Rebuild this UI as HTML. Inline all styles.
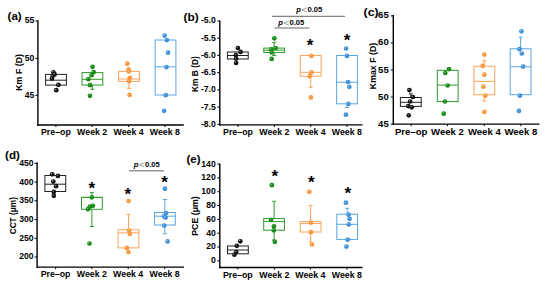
<!DOCTYPE html>
<html><head><meta charset="utf-8"><style>
html,body{margin:0;padding:0;background:#fff;width:550px;height:284px;overflow:hidden;}
svg{display:block;font-family:"Liberation Sans", sans-serif;}
</style></head><body>
<svg width="550" height="284" viewBox="0 0 550 284">
<defs><radialGradient id="gk" cx="0.5" cy="0.5" r="0.55" fx="0.32" fy="0.3"><stop offset="0" stop-color="#b0b0b0"/><stop offset="0.4" stop-color="#121212"/><stop offset="1" stop-color="#121212"/></radialGradient><radialGradient id="gg" cx="0.5" cy="0.5" r="0.55" fx="0.32" fy="0.3"><stop offset="0" stop-color="#7fd07f"/><stop offset="0.4" stop-color="#178a17"/><stop offset="1" stop-color="#178a17"/></radialGradient><radialGradient id="go" cx="0.5" cy="0.5" r="0.55" fx="0.32" fy="0.3"><stop offset="0" stop-color="#ffd6a8"/><stop offset="0.4" stop-color="#f7953a"/><stop offset="1" stop-color="#f7953a"/></radialGradient><radialGradient id="gb" cx="0.5" cy="0.5" r="0.55" fx="0.32" fy="0.3"><stop offset="0" stop-color="#b5dcfa"/><stop offset="0.4" stop-color="#3d8fd8"/><stop offset="1" stop-color="#3d8fd8"/></radialGradient></defs>
<rect width="550" height="284" fill="#fff"/>
<line x1="37.9" y1="20.3" x2="37.9" y2="125.7" stroke="#000" stroke-width="1.4"/>
<line x1="37.199999999999996" y1="125.0" x2="183.8" y2="125.0" stroke="#000" stroke-width="1.4"/>
<line x1="35.4" y1="21" x2="37.9" y2="21" stroke="#000" stroke-width="1"/>
<text x="34.3" y="23.4" font-size="8.6" font-weight="bold" text-anchor="end" >55</text>
<line x1="35.4" y1="58.3" x2="37.9" y2="58.3" stroke="#000" stroke-width="1"/>
<text x="34.3" y="60.699999999999996" font-size="8.6" font-weight="bold" text-anchor="end" >50</text>
<line x1="35.4" y1="95.4" x2="37.9" y2="95.4" stroke="#000" stroke-width="1"/>
<text x="34.3" y="97.80000000000001" font-size="8.6" font-weight="bold" text-anchor="end" >45</text>
<line x1="55.9" y1="125.0" x2="55.9" y2="127.0" stroke="#000" stroke-width="1"/>
<text x="55.9" y="135.4" font-size="8.8" font-weight="bold" text-anchor="middle" >Pre&#8211;op</text>
<line x1="92.2" y1="125.0" x2="92.2" y2="127.0" stroke="#000" stroke-width="1"/>
<text x="92.2" y="135.4" font-size="8.8" font-weight="bold" text-anchor="middle" >Week 2</text>
<line x1="128.6" y1="125.0" x2="128.6" y2="127.0" stroke="#000" stroke-width="1"/>
<text x="128.6" y="135.4" font-size="8.8" font-weight="bold" text-anchor="middle" >Week 4</text>
<line x1="164.9" y1="125.0" x2="164.9" y2="127.0" stroke="#000" stroke-width="1"/>
<text x="164.9" y="135.4" font-size="8.8" font-weight="bold" text-anchor="middle" >Week 8</text>
<text x="19.5" y="72.4" font-size="8.8" font-weight="bold" text-anchor="middle" transform="rotate(-90 19.5 72.4)" dominant-baseline="central">Km F (D)</text>
<text transform="translate(7.5 19.9) scale(1.06 1)" font-size="11" font-weight="bold" text-anchor="start" >(a)</text>
<rect x="45.6" y="74.4" width="20.8" height="10.699999999999989" fill="none" stroke="#222222" stroke-width="1"/>
<line x1="45.6" y1="80.2" x2="66.4" y2="80.2" stroke="#222222" stroke-width="1"/>
<circle cx="53.4" cy="72.30" r="2.35" fill="url(#gk)"/>
<circle cx="54.7" cy="74.40" r="2.35" fill="url(#gk)"/>
<circle cx="52.6" cy="76.00" r="2.35" fill="url(#gk)"/>
<circle cx="52" cy="78.60" r="2.35" fill="url(#gk)"/>
<circle cx="58.4" cy="84.90" r="2.35" fill="url(#gk)"/>
<circle cx="56.3" cy="90.20" r="2.35" fill="url(#gk)"/>
<line x1="92.4" y1="85" x2="92.4" y2="89.3" stroke="#2e9a2e" stroke-width="1"/>
<line x1="90.4" y1="89.3" x2="94.4" y2="89.3" stroke="#2e9a2e" stroke-width="1"/>
<rect x="82.0" y="72.6" width="20.8" height="12.400000000000006" fill="none" stroke="#2e9a2e" stroke-width="1"/>
<line x1="82.0" y1="79.3" x2="102.80000000000001" y2="79.3" stroke="#2e9a2e" stroke-width="1"/>
<circle cx="92.5" cy="66.80" r="2.35" fill="url(#gg)"/>
<circle cx="93.7" cy="72.20" r="2.35" fill="url(#gg)"/>
<circle cx="91.6" cy="75.20" r="2.35" fill="url(#gg)"/>
<circle cx="88.3" cy="79.20" r="2.35" fill="url(#gg)"/>
<circle cx="90" cy="85.20" r="2.35" fill="url(#gg)"/>
<circle cx="90" cy="95.80" r="2.35" fill="url(#gg)"/>
<line x1="129" y1="81.4" x2="129" y2="88.3" stroke="#f9a45a" stroke-width="1"/>
<line x1="127" y1="88.3" x2="131" y2="88.3" stroke="#f9a45a" stroke-width="1"/>
<rect x="118.6" y="71.4" width="20.8" height="10.0" fill="none" stroke="#f9a45a" stroke-width="1"/>
<line x1="118.6" y1="79" x2="139.4" y2="79" stroke="#f9a45a" stroke-width="1"/>
<circle cx="127.3" cy="63.70" r="2.35" fill="url(#go)"/>
<circle cx="128.6" cy="69.40" r="2.35" fill="url(#go)"/>
<circle cx="128.8" cy="71.40" r="2.35" fill="url(#go)"/>
<circle cx="129.8" cy="77.80" r="2.35" fill="url(#go)"/>
<circle cx="129" cy="81.20" r="2.35" fill="url(#go)"/>
<circle cx="129.6" cy="94.90" r="2.35" fill="url(#go)"/>
<rect x="155.1" y="40" width="20.8" height="55" fill="none" stroke="#5aa6e2" stroke-width="1"/>
<line x1="155.1" y1="66.8" x2="175.9" y2="66.8" stroke="#5aa6e2" stroke-width="1"/>
<circle cx="164.6" cy="35.60" r="2.35" fill="url(#gb)"/>
<circle cx="166.9" cy="40.10" r="2.35" fill="url(#gb)"/>
<circle cx="168" cy="52.70" r="2.35" fill="url(#gb)"/>
<circle cx="166.4" cy="67.20" r="2.35" fill="url(#gb)"/>
<circle cx="165.7" cy="95.20" r="2.35" fill="url(#gb)"/>
<circle cx="164.1" cy="110.80" r="2.35" fill="url(#gb)"/>
<line x1="219.8" y1="20.5" x2="219.8" y2="125.60000000000001" stroke="#000" stroke-width="1.4"/>
<line x1="219.10000000000002" y1="124.9" x2="362.5" y2="124.9" stroke="#000" stroke-width="1.4"/>
<line x1="217.3" y1="21" x2="219.8" y2="21" stroke="#000" stroke-width="1"/>
<text x="215.70000000000002" y="23.4" font-size="8.6" font-weight="bold" text-anchor="end" >-5.0</text>
<line x1="217.3" y1="38.2" x2="219.8" y2="38.2" stroke="#000" stroke-width="1"/>
<text x="215.70000000000002" y="40.6" font-size="8.6" font-weight="bold" text-anchor="end" >-5.5</text>
<line x1="217.3" y1="55.4" x2="219.8" y2="55.4" stroke="#000" stroke-width="1"/>
<text x="215.70000000000002" y="57.8" font-size="8.6" font-weight="bold" text-anchor="end" >-6.0</text>
<line x1="217.3" y1="72.6" x2="219.8" y2="72.6" stroke="#000" stroke-width="1"/>
<text x="215.70000000000002" y="75.0" font-size="8.6" font-weight="bold" text-anchor="end" >-6.5</text>
<line x1="217.3" y1="89.9" x2="219.8" y2="89.9" stroke="#000" stroke-width="1"/>
<text x="215.70000000000002" y="92.30000000000001" font-size="8.6" font-weight="bold" text-anchor="end" >-7.0</text>
<line x1="217.3" y1="107.1" x2="219.8" y2="107.1" stroke="#000" stroke-width="1"/>
<text x="215.70000000000002" y="109.5" font-size="8.6" font-weight="bold" text-anchor="end" >-7.5</text>
<line x1="217.3" y1="124.3" x2="219.8" y2="124.3" stroke="#000" stroke-width="1"/>
<text x="215.70000000000002" y="126.7" font-size="8.6" font-weight="bold" text-anchor="end" >-8.0</text>
<line x1="238.0" y1="124.9" x2="238.0" y2="126.9" stroke="#000" stroke-width="1"/>
<text x="238.0" y="135.3" font-size="8.8" font-weight="bold" text-anchor="middle" >Pre&#8211;op</text>
<line x1="274.4" y1="124.9" x2="274.4" y2="126.9" stroke="#000" stroke-width="1"/>
<text x="274.4" y="135.3" font-size="8.8" font-weight="bold" text-anchor="middle" >Week 2</text>
<line x1="310.7" y1="124.9" x2="310.7" y2="126.9" stroke="#000" stroke-width="1"/>
<text x="310.7" y="135.3" font-size="8.8" font-weight="bold" text-anchor="middle" >Week 4</text>
<line x1="346.9" y1="124.9" x2="346.9" y2="126.9" stroke="#000" stroke-width="1"/>
<text x="346.9" y="135.3" font-size="8.8" font-weight="bold" text-anchor="middle" >Week 8</text>
<text x="195.5" y="74.1" font-size="8.4" font-weight="bold" text-anchor="middle" transform="rotate(-90 195.5 74.1)" dominant-baseline="central">Km B (D)</text>
<text transform="translate(183.5 20.8) scale(1.03 1)" font-size="11.5" font-weight="bold" text-anchor="start" >(b)</text>
<rect x="227.4" y="52" width="20.8" height="7" fill="none" stroke="#222222" stroke-width="1"/>
<line x1="227.4" y1="55.5" x2="248.20000000000002" y2="55.5" stroke="#222222" stroke-width="1"/>
<circle cx="237.9" cy="48.00" r="2.35" fill="url(#gk)"/>
<circle cx="240.5" cy="51.90" r="2.35" fill="url(#gk)"/>
<circle cx="235.8" cy="55.00" r="2.35" fill="url(#gk)"/>
<circle cx="236.1" cy="58.60" r="2.35" fill="url(#gk)"/>
<circle cx="236.1" cy="63.00" r="2.35" fill="url(#gk)"/>
<line x1="274.2" y1="42.3" x2="274.2" y2="48.1" stroke="#2e9a2e" stroke-width="1"/>
<line x1="272.2" y1="42.3" x2="276.2" y2="42.3" stroke="#2e9a2e" stroke-width="1"/>
<line x1="274.2" y1="52.5" x2="274.2" y2="55.5" stroke="#2e9a2e" stroke-width="1"/>
<line x1="272.2" y1="55.5" x2="276.2" y2="55.5" stroke="#2e9a2e" stroke-width="1"/>
<rect x="263.8" y="48.1" width="20.8" height="4.399999999999999" fill="none" stroke="#2e9a2e" stroke-width="1"/>
<line x1="263.8" y1="50.2" x2="284.59999999999997" y2="50.2" stroke="#2e9a2e" stroke-width="1"/>
<circle cx="274.3" cy="38.30" r="2.35" fill="url(#gg)"/>
<circle cx="271.3" cy="49.40" r="2.35" fill="url(#gg)"/>
<circle cx="275.7" cy="48.00" r="2.35" fill="url(#gg)"/>
<circle cx="271.7" cy="52.40" r="2.35" fill="url(#gg)"/>
<circle cx="271.7" cy="58.90" r="2.35" fill="url(#gg)"/>
<line x1="310.7" y1="76.2" x2="310.7" y2="87.3" stroke="#f9a45a" stroke-width="1"/>
<line x1="308.7" y1="87.3" x2="312.7" y2="87.3" stroke="#f9a45a" stroke-width="1"/>
<rect x="300.3" y="55.5" width="20.8" height="20.700000000000003" fill="none" stroke="#f9a45a" stroke-width="1"/>
<line x1="300.3" y1="72.3" x2="321.09999999999997" y2="72.3" stroke="#f9a45a" stroke-width="1"/>
<circle cx="311.4" cy="55.90" r="2.35" fill="url(#go)"/>
<circle cx="311.4" cy="72.40" r="2.35" fill="url(#go)"/>
<circle cx="309.6" cy="76.20" r="2.35" fill="url(#go)"/>
<circle cx="310.9" cy="97.40" r="2.35" fill="url(#go)"/>
<line x1="347" y1="103.8" x2="347" y2="107.5" stroke="#5aa6e2" stroke-width="1"/>
<line x1="345" y1="107.5" x2="349" y2="107.5" stroke="#5aa6e2" stroke-width="1"/>
<rect x="336.6" y="55.5" width="20.8" height="48.3" fill="none" stroke="#5aa6e2" stroke-width="1"/>
<line x1="336.6" y1="82.2" x2="357.4" y2="82.2" stroke="#5aa6e2" stroke-width="1"/>
<circle cx="346.1" cy="48.50" r="2.35" fill="url(#gb)"/>
<circle cx="347" cy="55.90" r="2.35" fill="url(#gb)"/>
<circle cx="348" cy="82.00" r="2.35" fill="url(#gb)"/>
<circle cx="349.3" cy="86.80" r="2.35" fill="url(#gb)"/>
<circle cx="348.4" cy="103.80" r="2.35" fill="url(#gb)"/>
<circle cx="345.9" cy="114.70" r="2.35" fill="url(#gb)"/>
<text x="310" y="50.8" font-size="17" font-weight="bold" text-anchor="middle">*</text>
<text x="347" y="46.0" font-size="17" font-weight="bold" text-anchor="middle">*</text>
<line x1="272" y1="16.3" x2="345" y2="16.3" stroke="#666" stroke-width="1"/>
<text transform="translate(296.17 11.7) scale(1.12 1)" font-size="6.8" font-weight="bold" font-style="italic">p</text>
<polyline points="306.80,7.90 302.00,9.85 306.80,11.80" fill="none" stroke="#808080" stroke-width="0.75"/>
<text transform="translate(307.50 11.7) scale(1.12 1)" font-size="6.8" font-weight="bold">0.05</text>
<line x1="274.4" y1="28" x2="309.4" y2="28" stroke="#666" stroke-width="1"/>
<text transform="translate(278.17 25) scale(1.12 1)" font-size="6.8" font-weight="bold" font-style="italic">p</text>
<polyline points="288.80,21.20 284.00,23.15 288.80,25.10" fill="none" stroke="#808080" stroke-width="0.75"/>
<text transform="translate(289.50 25) scale(1.12 1)" font-size="6.8" font-weight="bold">0.05</text>
<line x1="393.3" y1="15.0" x2="393.3" y2="124.8" stroke="#000" stroke-width="1.4"/>
<line x1="392.6" y1="124.1" x2="539.5" y2="124.1" stroke="#000" stroke-width="1.4"/>
<line x1="390.8" y1="15.9" x2="393.3" y2="15.9" stroke="#000" stroke-width="1"/>
<text transform="translate(388.7 18.411627906976744) scale(1.06 1)" font-size="9" font-weight="bold" text-anchor="end" >65</text>
<line x1="390.8" y1="42.95" x2="393.3" y2="42.95" stroke="#000" stroke-width="1"/>
<text transform="translate(388.7 45.461627906976744) scale(1.06 1)" font-size="9" font-weight="bold" text-anchor="end" >60</text>
<line x1="390.8" y1="70" x2="393.3" y2="70" stroke="#000" stroke-width="1"/>
<text transform="translate(388.7 72.51162790697674) scale(1.06 1)" font-size="9" font-weight="bold" text-anchor="end" >55</text>
<line x1="390.8" y1="97.05" x2="393.3" y2="97.05" stroke="#000" stroke-width="1"/>
<text transform="translate(388.7 99.56162790697674) scale(1.06 1)" font-size="9" font-weight="bold" text-anchor="end" >50</text>
<line x1="390.8" y1="124.1" x2="393.3" y2="124.1" stroke="#000" stroke-width="1"/>
<text transform="translate(388.7 126.61162790697674) scale(1.06 1)" font-size="9" font-weight="bold" text-anchor="end" >45</text>
<line x1="411.2" y1="124.1" x2="411.2" y2="126.1" stroke="#000" stroke-width="1"/>
<text transform="translate(411.2 134.5) scale(1.09 1)" font-size="8.8" font-weight="bold" text-anchor="middle" >Pre&#8211;op</text>
<line x1="447.5" y1="124.1" x2="447.5" y2="126.1" stroke="#000" stroke-width="1"/>
<text transform="translate(447.5 134.5) scale(1.09 1)" font-size="8.8" font-weight="bold" text-anchor="middle" >Week 2</text>
<line x1="484.3" y1="124.1" x2="484.3" y2="126.1" stroke="#000" stroke-width="1"/>
<text transform="translate(484.3 134.5) scale(1.09 1)" font-size="8.8" font-weight="bold" text-anchor="middle" >Week 4</text>
<line x1="520.8" y1="124.1" x2="520.8" y2="126.1" stroke="#000" stroke-width="1"/>
<text transform="translate(520.8 134.5) scale(1.09 1)" font-size="8.8" font-weight="bold" text-anchor="middle" >Week 8</text>
<text x="373" y="66" font-size="8.8" font-weight="bold" text-anchor="middle" transform="rotate(-90 373 66)" dominant-baseline="central">Kmax F (D)</text>
<text transform="translate(363.6 15.6) scale(1.17 1)" font-size="10.5" font-weight="bold" text-anchor="start" >(c)</text>
<line x1="410.8" y1="93.8" x2="410.8" y2="97.5" stroke="#222222" stroke-width="1"/>
<line x1="408.8" y1="93.8" x2="412.8" y2="93.8" stroke="#222222" stroke-width="1"/>
<rect x="400.40000000000003" y="97.5" width="20.8" height="8.900000000000006" fill="none" stroke="#222222" stroke-width="1"/>
<line x1="400.40000000000003" y1="102.3" x2="421.2" y2="102.3" stroke="#222222" stroke-width="1"/>
<circle cx="409.4" cy="90.10" r="2.35" fill="url(#gk)"/>
<circle cx="412.9" cy="97.00" r="2.35" fill="url(#gk)"/>
<circle cx="410.1" cy="101.50" r="2.35" fill="url(#gk)"/>
<circle cx="408.3" cy="106.10" r="2.35" fill="url(#gk)"/>
<circle cx="411.7" cy="107.30" r="2.35" fill="url(#gk)"/>
<circle cx="408.7" cy="115.30" r="2.35" fill="url(#gk)"/>
<rect x="437.3" y="70.3" width="20.8" height="31.299999999999997" fill="none" stroke="#2e9a2e" stroke-width="1"/>
<line x1="437.3" y1="85.1" x2="458.09999999999997" y2="85.1" stroke="#2e9a2e" stroke-width="1"/>
<circle cx="449" cy="69.10" r="2.35" fill="url(#gg)"/>
<circle cx="445.3" cy="73.00" r="2.35" fill="url(#gg)"/>
<circle cx="447.6" cy="85.50" r="2.35" fill="url(#gg)"/>
<circle cx="444.9" cy="101.50" r="2.35" fill="url(#gg)"/>
<circle cx="443.7" cy="113.70" r="2.35" fill="url(#gg)"/>
<line x1="484.3" y1="60.7" x2="484.3" y2="66.2" stroke="#f9a45a" stroke-width="1"/>
<line x1="482.3" y1="60.7" x2="486.3" y2="60.7" stroke="#f9a45a" stroke-width="1"/>
<line x1="484.3" y1="94.7" x2="484.3" y2="101.1" stroke="#f9a45a" stroke-width="1"/>
<line x1="482.3" y1="101.1" x2="486.3" y2="101.1" stroke="#f9a45a" stroke-width="1"/>
<rect x="473.90000000000003" y="66.2" width="20.8" height="28.5" fill="none" stroke="#f9a45a" stroke-width="1"/>
<line x1="473.90000000000003" y1="81.4" x2="494.7" y2="81.4" stroke="#f9a45a" stroke-width="1"/>
<circle cx="484.3" cy="54.60" r="2.35" fill="url(#go)"/>
<circle cx="482.7" cy="65.90" r="2.35" fill="url(#go)"/>
<circle cx="484.3" cy="74.70" r="2.35" fill="url(#go)"/>
<circle cx="483.3" cy="86.70" r="2.35" fill="url(#go)"/>
<circle cx="485.3" cy="95.70" r="2.35" fill="url(#go)"/>
<circle cx="484.3" cy="111.90" r="2.35" fill="url(#go)"/>
<line x1="520.6" y1="37.1" x2="520.6" y2="48.8" stroke="#5aa6e2" stroke-width="1"/>
<line x1="518.6" y1="37.1" x2="522.6" y2="37.1" stroke="#5aa6e2" stroke-width="1"/>
<rect x="510.20000000000005" y="48.8" width="20.8" height="45.900000000000006" fill="none" stroke="#5aa6e2" stroke-width="1"/>
<line x1="510.20000000000005" y1="66.8" x2="531.0" y2="66.8" stroke="#5aa6e2" stroke-width="1"/>
<circle cx="521.4" cy="31.30" r="2.35" fill="url(#gb)"/>
<circle cx="519.5" cy="49.20" r="2.35" fill="url(#gb)"/>
<circle cx="521.8" cy="53.50" r="2.35" fill="url(#gb)"/>
<circle cx="523.1" cy="66.60" r="2.35" fill="url(#gb)"/>
<circle cx="519.9" cy="95.70" r="2.35" fill="url(#gb)"/>
<circle cx="518.9" cy="110.90" r="2.35" fill="url(#gb)"/>
<line x1="37.1" y1="162.2" x2="37.1" y2="267.8" stroke="#000" stroke-width="1.4"/>
<line x1="36.4" y1="267.1" x2="184" y2="267.1" stroke="#000" stroke-width="1.4"/>
<line x1="34.6" y1="163.4" x2="37.1" y2="163.4" stroke="#000" stroke-width="1"/>
<text x="33.6" y="165.8" font-size="8.6" font-weight="bold" text-anchor="end" >450</text>
<line x1="34.6" y1="182.1" x2="37.1" y2="182.1" stroke="#000" stroke-width="1"/>
<text x="33.6" y="184.5" font-size="8.6" font-weight="bold" text-anchor="end" >400</text>
<line x1="34.6" y1="200.8" x2="37.1" y2="200.8" stroke="#000" stroke-width="1"/>
<text x="33.6" y="203.20000000000002" font-size="8.6" font-weight="bold" text-anchor="end" >350</text>
<line x1="34.6" y1="219.6" x2="37.1" y2="219.6" stroke="#000" stroke-width="1"/>
<text x="33.6" y="222.0" font-size="8.6" font-weight="bold" text-anchor="end" >300</text>
<line x1="34.6" y1="238.3" x2="37.1" y2="238.3" stroke="#000" stroke-width="1"/>
<text x="33.6" y="240.70000000000002" font-size="8.6" font-weight="bold" text-anchor="end" >250</text>
<line x1="34.6" y1="257" x2="37.1" y2="257" stroke="#000" stroke-width="1"/>
<text x="33.6" y="259.4" font-size="8.6" font-weight="bold" text-anchor="end" >200</text>
<line x1="55.6" y1="267.1" x2="55.6" y2="269.1" stroke="#000" stroke-width="1"/>
<text x="55.6" y="276.90000000000003" font-size="8.8" font-weight="bold" text-anchor="middle" >Pre&#8211;op</text>
<line x1="91.9" y1="267.1" x2="91.9" y2="269.1" stroke="#000" stroke-width="1"/>
<text x="91.9" y="276.90000000000003" font-size="8.8" font-weight="bold" text-anchor="middle" >Week 2</text>
<line x1="128.2" y1="267.1" x2="128.2" y2="269.1" stroke="#000" stroke-width="1"/>
<text x="128.2" y="276.90000000000003" font-size="8.8" font-weight="bold" text-anchor="middle" >Week 4</text>
<line x1="164.7" y1="267.1" x2="164.7" y2="269.1" stroke="#000" stroke-width="1"/>
<text x="164.7" y="276.90000000000003" font-size="8.8" font-weight="bold" text-anchor="middle" >Week 8</text>
<text x="13.4" y="215.7" font-size="8.3" font-weight="bold" text-anchor="middle" transform="rotate(-90 13.4 215.7)" dominant-baseline="central">CCT (&#956;m)</text>
<text transform="translate(5 158.6) scale(1.06 1)" font-size="11" font-weight="bold" text-anchor="start" >(d)</text>
<rect x="44.9" y="175.5" width="20.8" height="16.0" fill="none" stroke="#222222" stroke-width="1"/>
<line x1="44.9" y1="184.2" x2="65.7" y2="184.2" stroke="#222222" stroke-width="1"/>
<circle cx="52.2" cy="174.30" r="2.35" fill="url(#gk)"/>
<circle cx="57.9" cy="175.90" r="2.35" fill="url(#gk)"/>
<circle cx="53.3" cy="181.60" r="2.35" fill="url(#gk)"/>
<circle cx="56.1" cy="186.20" r="2.35" fill="url(#gk)"/>
<circle cx="53.8" cy="191.90" r="2.35" fill="url(#gk)"/>
<circle cx="53.8" cy="195.80" r="2.35" fill="url(#gk)"/>
<line x1="91.9" y1="192.6" x2="91.9" y2="197.4" stroke="#2e9a2e" stroke-width="1"/>
<line x1="89.9" y1="192.6" x2="93.9" y2="192.6" stroke="#2e9a2e" stroke-width="1"/>
<line x1="91.9" y1="209.3" x2="91.9" y2="226.5" stroke="#2e9a2e" stroke-width="1"/>
<line x1="89.9" y1="226.5" x2="93.9" y2="226.5" stroke="#2e9a2e" stroke-width="1"/>
<rect x="81.5" y="197.4" width="20.8" height="11.900000000000006" fill="none" stroke="#2e9a2e" stroke-width="1"/>
<line x1="81.5" y1="197.4" x2="102.30000000000001" y2="197.4" stroke="#2e9a2e" stroke-width="1"/>
<circle cx="91.8" cy="197.30" r="2.35" fill="url(#gg)"/>
<circle cx="92.9" cy="205.80" r="2.35" fill="url(#gg)"/>
<circle cx="89.8" cy="206.70" r="2.35" fill="url(#gg)"/>
<circle cx="88" cy="209.20" r="2.35" fill="url(#gg)"/>
<circle cx="89.5" cy="243.50" r="2.35" fill="url(#gg)"/>
<line x1="128.5" y1="214.4" x2="128.5" y2="229.8" stroke="#f9a45a" stroke-width="1"/>
<line x1="126.5" y1="214.4" x2="130.5" y2="214.4" stroke="#f9a45a" stroke-width="1"/>
<rect x="118.1" y="229.8" width="20.8" height="18.099999999999994" fill="none" stroke="#f9a45a" stroke-width="1"/>
<line x1="118.1" y1="232.8" x2="138.9" y2="232.8" stroke="#f9a45a" stroke-width="1"/>
<circle cx="128.6" cy="201.00" r="2.35" fill="url(#go)"/>
<circle cx="129.1" cy="230.50" r="2.35" fill="url(#go)"/>
<circle cx="129.8" cy="233.90" r="2.35" fill="url(#go)"/>
<circle cx="126.8" cy="247.90" r="2.35" fill="url(#go)"/>
<circle cx="128.4" cy="252.00" r="2.35" fill="url(#go)"/>
<line x1="164.9" y1="199.5" x2="164.9" y2="212.5" stroke="#5aa6e2" stroke-width="1"/>
<line x1="162.9" y1="199.5" x2="166.9" y2="199.5" stroke="#5aa6e2" stroke-width="1"/>
<line x1="164.9" y1="225" x2="164.9" y2="233.8" stroke="#5aa6e2" stroke-width="1"/>
<line x1="162.9" y1="233.8" x2="166.9" y2="233.8" stroke="#5aa6e2" stroke-width="1"/>
<rect x="154.5" y="212.5" width="20.8" height="12.5" fill="none" stroke="#5aa6e2" stroke-width="1"/>
<line x1="154.5" y1="216.2" x2="175.3" y2="216.2" stroke="#5aa6e2" stroke-width="1"/>
<circle cx="164.9" cy="188.70" r="2.35" fill="url(#gb)"/>
<circle cx="166" cy="213.10" r="2.35" fill="url(#gb)"/>
<circle cx="164" cy="216.30" r="2.35" fill="url(#gb)"/>
<circle cx="165.6" cy="217.60" r="2.35" fill="url(#gb)"/>
<circle cx="164.2" cy="225.60" r="2.35" fill="url(#gb)"/>
<circle cx="167.6" cy="241.40" r="2.35" fill="url(#gb)"/>
<text x="91.7" y="193.6" font-size="17" font-weight="bold" text-anchor="middle">*</text>
<text x="127.7" y="200.0" font-size="17" font-weight="bold" text-anchor="middle">*</text>
<text x="164.5" y="188.0" font-size="17" font-weight="bold" text-anchor="middle">*</text>
<line x1="129" y1="170.8" x2="163.9" y2="170.8" stroke="#999" stroke-width="1.4"/>
<text transform="translate(133.67 166.6) scale(1.12 1)" font-size="6.8" font-weight="bold" font-style="italic">p</text>
<polyline points="144.30,162.80 139.50,164.75 144.30,166.70" fill="none" stroke="#808080" stroke-width="0.75"/>
<text transform="translate(145.00 166.6) scale(1.12 1)" font-size="6.8" font-weight="bold">0.05</text>
<line x1="219.8" y1="163.5" x2="219.8" y2="268.2" stroke="#000" stroke-width="1.4"/>
<line x1="219.10000000000002" y1="267.5" x2="362.5" y2="267.5" stroke="#000" stroke-width="1.4"/>
<line x1="217.3" y1="164.1" x2="219.8" y2="164.1" stroke="#000" stroke-width="1"/>
<text x="215.70000000000002" y="166.5" font-size="8.6" font-weight="bold" text-anchor="end" >140</text>
<line x1="217.3" y1="177.9" x2="219.8" y2="177.9" stroke="#000" stroke-width="1"/>
<text x="215.70000000000002" y="180.3" font-size="8.6" font-weight="bold" text-anchor="end" >120</text>
<line x1="217.3" y1="191.7" x2="219.8" y2="191.7" stroke="#000" stroke-width="1"/>
<text x="215.70000000000002" y="194.1" font-size="8.6" font-weight="bold" text-anchor="end" >100</text>
<line x1="217.3" y1="205.5" x2="219.8" y2="205.5" stroke="#000" stroke-width="1"/>
<text x="215.70000000000002" y="207.9" font-size="8.6" font-weight="bold" text-anchor="end" >80</text>
<line x1="217.3" y1="219.4" x2="219.8" y2="219.4" stroke="#000" stroke-width="1"/>
<text x="215.70000000000002" y="221.8" font-size="8.6" font-weight="bold" text-anchor="end" >60</text>
<line x1="217.3" y1="233.2" x2="219.8" y2="233.2" stroke="#000" stroke-width="1"/>
<text x="215.70000000000002" y="235.6" font-size="8.6" font-weight="bold" text-anchor="end" >40</text>
<line x1="217.3" y1="247" x2="219.8" y2="247" stroke="#000" stroke-width="1"/>
<text x="215.70000000000002" y="249.4" font-size="8.6" font-weight="bold" text-anchor="end" >20</text>
<line x1="217.3" y1="260.8" x2="219.8" y2="260.8" stroke="#000" stroke-width="1"/>
<text x="215.70000000000002" y="263.2" font-size="8.6" font-weight="bold" text-anchor="end" >0</text>
<line x1="237.8" y1="267.5" x2="237.8" y2="269.5" stroke="#000" stroke-width="1"/>
<text x="237.8" y="277.9" font-size="8.8" font-weight="bold" text-anchor="middle" >Pre&#8211;op</text>
<line x1="274.4" y1="267.5" x2="274.4" y2="269.5" stroke="#000" stroke-width="1"/>
<text x="274.4" y="277.9" font-size="8.8" font-weight="bold" text-anchor="middle" >Week 2</text>
<line x1="310.4" y1="267.5" x2="310.4" y2="269.5" stroke="#000" stroke-width="1"/>
<text x="310.4" y="277.9" font-size="8.8" font-weight="bold" text-anchor="middle" >Week 4</text>
<line x1="346.9" y1="267.5" x2="346.9" y2="269.5" stroke="#000" stroke-width="1"/>
<text x="346.9" y="277.9" font-size="8.8" font-weight="bold" text-anchor="middle" >Week 8</text>
<text x="195" y="216" font-size="8.8" font-weight="bold" text-anchor="middle" transform="rotate(-90 195 216)" dominant-baseline="central">PCE (&#956;m)</text>
<text transform="translate(186.5 163.4) scale(1.07 1)" font-size="10.8" font-weight="bold" text-anchor="start" >(e)</text>
<rect x="227.5" y="246" width="20.8" height="7.800000000000011" fill="none" stroke="#222222" stroke-width="1"/>
<line x1="227.5" y1="250" x2="248.3" y2="250" stroke="#222222" stroke-width="1"/>
<circle cx="240.3" cy="241.30" r="2.35" fill="url(#gk)"/>
<circle cx="236.8" cy="245.80" r="2.35" fill="url(#gk)"/>
<circle cx="236.3" cy="252.00" r="2.35" fill="url(#gk)"/>
<circle cx="234.4" cy="254.70" r="2.35" fill="url(#gk)"/>
<line x1="274.1" y1="201.3" x2="274.1" y2="218.6" stroke="#2e9a2e" stroke-width="1"/>
<line x1="272.1" y1="201.3" x2="276.1" y2="201.3" stroke="#2e9a2e" stroke-width="1"/>
<line x1="274.1" y1="230.2" x2="274.1" y2="240" stroke="#2e9a2e" stroke-width="1"/>
<line x1="272.1" y1="240" x2="276.1" y2="240" stroke="#2e9a2e" stroke-width="1"/>
<rect x="263.70000000000005" y="218.6" width="20.8" height="11.599999999999994" fill="none" stroke="#2e9a2e" stroke-width="1"/>
<line x1="263.70000000000005" y1="221.6" x2="284.5" y2="221.6" stroke="#2e9a2e" stroke-width="1"/>
<circle cx="271.9" cy="185.20" r="2.35" fill="url(#gg)"/>
<circle cx="271" cy="219.80" r="2.35" fill="url(#gg)"/>
<circle cx="273.9" cy="226.30" r="2.35" fill="url(#gg)"/>
<circle cx="273.8" cy="230.30" r="2.35" fill="url(#gg)"/>
<circle cx="274.8" cy="241.80" r="2.35" fill="url(#gg)"/>
<line x1="310.6" y1="205.5" x2="310.6" y2="221.6" stroke="#f9a45a" stroke-width="1"/>
<line x1="308.6" y1="205.5" x2="312.6" y2="205.5" stroke="#f9a45a" stroke-width="1"/>
<line x1="310.6" y1="232" x2="310.6" y2="242" stroke="#f9a45a" stroke-width="1"/>
<line x1="308.6" y1="242" x2="312.6" y2="242" stroke="#f9a45a" stroke-width="1"/>
<rect x="300.20000000000005" y="221.6" width="20.8" height="10.400000000000006" fill="none" stroke="#f9a45a" stroke-width="1"/>
<line x1="300.20000000000005" y1="223.6" x2="321.0" y2="223.6" stroke="#f9a45a" stroke-width="1"/>
<circle cx="309.3" cy="191.80" r="2.35" fill="url(#go)"/>
<circle cx="310.9" cy="222.60" r="2.35" fill="url(#go)"/>
<circle cx="310.9" cy="232.20" r="2.35" fill="url(#go)"/>
<circle cx="312" cy="244.50" r="2.35" fill="url(#go)"/>
<line x1="347.2" y1="208.3" x2="347.2" y2="214.2" stroke="#5aa6e2" stroke-width="1"/>
<line x1="345.2" y1="208.3" x2="349.2" y2="208.3" stroke="#5aa6e2" stroke-width="1"/>
<rect x="336.8" y="214.2" width="20.8" height="25.200000000000017" fill="none" stroke="#5aa6e2" stroke-width="1"/>
<line x1="336.8" y1="224.3" x2="357.59999999999997" y2="224.3" stroke="#5aa6e2" stroke-width="1"/>
<circle cx="345.9" cy="202.70" r="2.35" fill="url(#gb)"/>
<circle cx="348.6" cy="214.70" r="2.35" fill="url(#gb)"/>
<circle cx="349.6" cy="218.80" r="2.35" fill="url(#gb)"/>
<circle cx="348.7" cy="224.40" r="2.35" fill="url(#gb)"/>
<circle cx="347.6" cy="239.70" r="2.35" fill="url(#gb)"/>
<circle cx="346.4" cy="246.60" r="2.35" fill="url(#gb)"/>
<text x="274.9" y="182.4" font-size="17" font-weight="bold" text-anchor="middle">*</text>
<text x="311.2" y="188.1" font-size="17" font-weight="bold" text-anchor="middle">*</text>
<text x="347.7" y="198.5" font-size="17" font-weight="bold" text-anchor="middle">*</text>
</svg>
</body></html>
